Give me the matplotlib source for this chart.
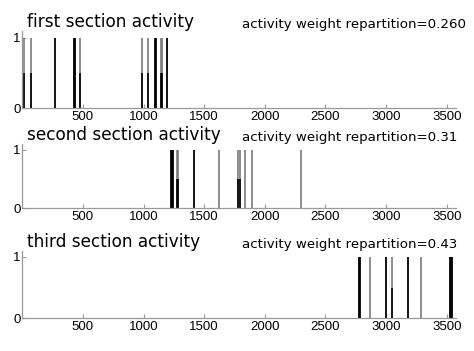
import matplotlib.pyplot as plt

# event positions and height of the dark part of each mark
first_events = [14, 69, 268, 425, 431, 474, 989, 1033, 1096, 1102, 1143, 1155, 1197]
first_heights = [0.5, 0.5, 1, 1, 1, 0.5, 0.5, 0.5, 1, 1, 0.5, 0.5, 1]
second_events = [1224, 1232, 1244, 1274, 1288, 1418, 1621, 1782, 1795, 1840, 1895, 2295]
second_heights = [1, 1, 1, 0.5, 0.5, 1, 0, 0.5, 0.5, 0, 0, 0]
third_events = [2777, 2785, 2870, 2995, 3050, 3180, 3290, 3526, 3536, 3546]
third_heights = [1, 1, 0, 1, 0.5, 1, 0, 1, 1, 1]

titles = ["first section activity", "second section activity", "third section activity"]
weights = ["0.260", "0.31", "0.43"]
xticks = [500, 1000, 1500, 2000, 2500, 3000, 3500]

fig = plt.figure(figsize=(4.74, 3.51), dpi=100)
boxes = [
    [0.047, 0.692, 0.916, 0.220],
    [0.047, 0.407, 0.916, 0.183],
    [0.047, 0.093, 0.916, 0.193],
]
data = [(first_events, first_heights), (second_events, second_heights),
        (third_events, third_heights)]

for box, (ev, hh), title, w in zip(boxes, data, titles, weights):
    ax = fig.add_axes(box)
    ax.vlines(ev, 0, 1, colors="#7a7a7a", linewidth=1.2)
    dark = [(e, h) for e, h in zip(ev, hh) if h > 0]
    ax.vlines([d[0] for d in dark], 0, [d[1] for d in dark], colors="black", linewidth=1.2)
    ax.set_xlim(0, 3580)
    ax.set_ylim(0, 1.1)
    ax.set_xticks(xticks)
    ax.set_yticks([0, 1])
    for s in ["top", "right"]:
        ax.spines[s].set_visible(False)
    for s in ["left", "bottom"]:
        ax.spines[s].set_color("#999999")
        ax.spines[s].set_linewidth(0.9)
    ax.tick_params(direction="in", length=3, color="#999999", labelsize=9.5, pad=2)
    ax.tick_params(axis="y", pad=1)
    for lab in ax.get_xticklabels() + ax.get_yticklabels():
        lab.set_family("Liberation Sans")
    ax.text(0.01, 1.0, title, transform=ax.transAxes, fontsize=12.2,
            ha="left", va="bottom", family="DejaVu Sans")
    ax.text(0.506, 1.0, "activity weight repartition=" + w, transform=ax.transAxes,
            fontsize=9.6, ha="left", va="bottom", family="DejaVu Sans")

fig.savefig("out.png", dpi=100)
